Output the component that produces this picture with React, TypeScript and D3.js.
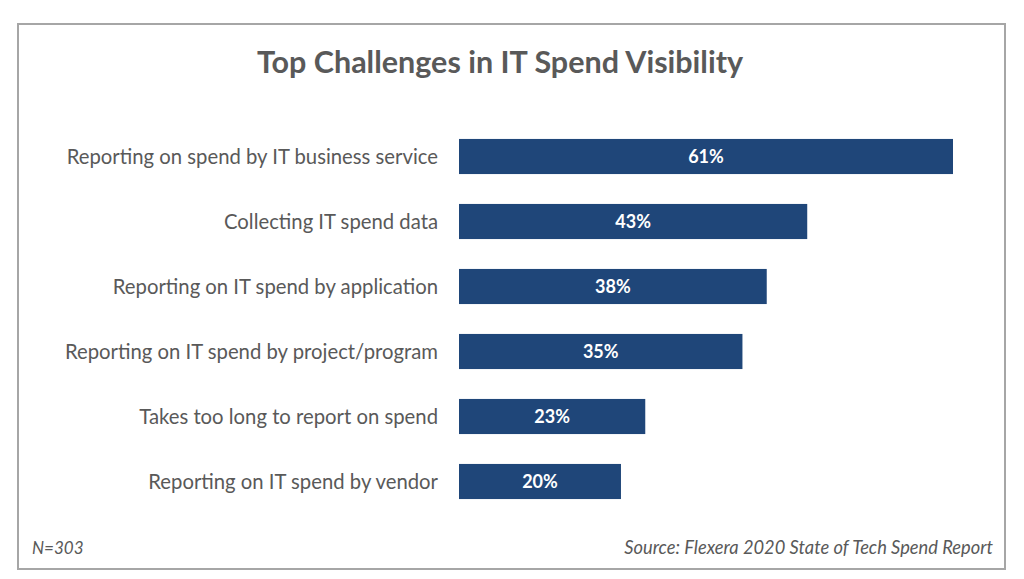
import { useEffect, useRef } from "react";
import * as d3 from "d3";

const CATEGORIES = [
  "Reporting on spend by IT business service",
  "Collecting IT spend data",
  "Reporting on IT spend by application",
  "Reporting on IT spend by project/program",
  "Takes too long to report on spend",
  "Reporting on IT spend by vendor",
];
const VALUES = [61, 43, 38, 35, 23, 20];

const TITLE = "Top Challenges in IT Spend Visibility";
const NOTE = "N=303";
const SOURCE = "Source: Flexera 2020 State of Tech Spend Report";

const W = 1024, H = 579;
const BAR = "#1f4679";
const GREY = "#595959";
const FONT = "Lato, 'Open Sans', sans-serif";

export default function App() {
  const svgRef = useRef<SVGSVGElement>(null);

  useEffect(() => {
    if (!svgRef.current) return;
    const svg = d3.select(svgRef.current);
    svg.selectAll("*").remove();

    // frame
    svg.append("rect")
      .attr("x", 18).attr("y", 24)
      .attr("width", 987).attr("height", 545)
      .attr("fill", "#fff")
      .attr("stroke", "#a6a6a6").attr("stroke-width", 2);

    svg.append("text")
      .attr("x", 500).attr("y", 73)
      .attr("text-anchor", "middle")
      .attr("fill", GREY)
      .attr("font-family", FONT)
      .attr("font-size", "30.5px").attr("font-weight", "700")
      .text(TITLE);

    const x = d3.scaleLinear().domain([0, 61]).range([459, 953]);
    const y = d3.scaleBand<string>()
      .domain(CATEGORIES)
      .range([124, 514])
      .paddingInner(0.46)
      .paddingOuter(0.23);

    const rows = CATEGORIES.map((c, i) => ({ c, v: VALUES[i] }));

    svg.selectAll("rect.bar")
      .data(rows)
      .join("rect")
      .attr("class", "bar")
      .attr("x", x(0))
      .attr("y", (d) => y(d.c)!)
      .attr("width", (d) => x(d.v) - x(0))
      .attr("height", y.bandwidth())
      .attr("fill", BAR);

    svg.selectAll("text.val")
      .data(rows)
      .join("text")
      .attr("class", "val")
      .attr("x", (d) => (x(0) + x(d.v)) / 2)
      .attr("y", (d) => y(d.c)! + y.bandwidth() / 2)
      .attr("dy", "0.36em")
      .attr("text-anchor", "middle")
      .attr("fill", "#fff")
      .attr("font-family", FONT)
      .attr("font-size", "18px").attr("font-weight", "700")
      .text((d) => `${d.v}%`);

    svg.selectAll("text.cat")
      .data(rows)
      .join("text")
      .attr("class", "cat")
      .attr("x", 438)
      .attr("y", (d) => y(d.c)! + y.bandwidth() / 2)
      .attr("dy", "0.36em")
      .attr("text-anchor", "end")
      .attr("fill", GREY)
      .attr("font-family", FONT)
      .attr("font-size", "20.3px")
      .text((d) => d.c);

    svg.append("text")
      .attr("x", 32).attr("y", 554)
      .attr("fill", GREY)
      .attr("font-family", FONT)
      .attr("font-size", "17px").attr("font-style", "italic")
      .text(NOTE);

    svg.append("text")
      .attr("x", 993).attr("y", 554)
      .attr("text-anchor", "end")
      .attr("fill", GREY)
      .attr("font-family", FONT)
      .attr("font-size", "18.3px").attr("font-style", "italic")
      .text(SOURCE);
  }, []);

  return (
    <svg
      ref={svgRef}
      width={W}
      height={H}
      style={{ position: "absolute", left: 0, top: 0, background: "#fff" }}
    />
  );
}
